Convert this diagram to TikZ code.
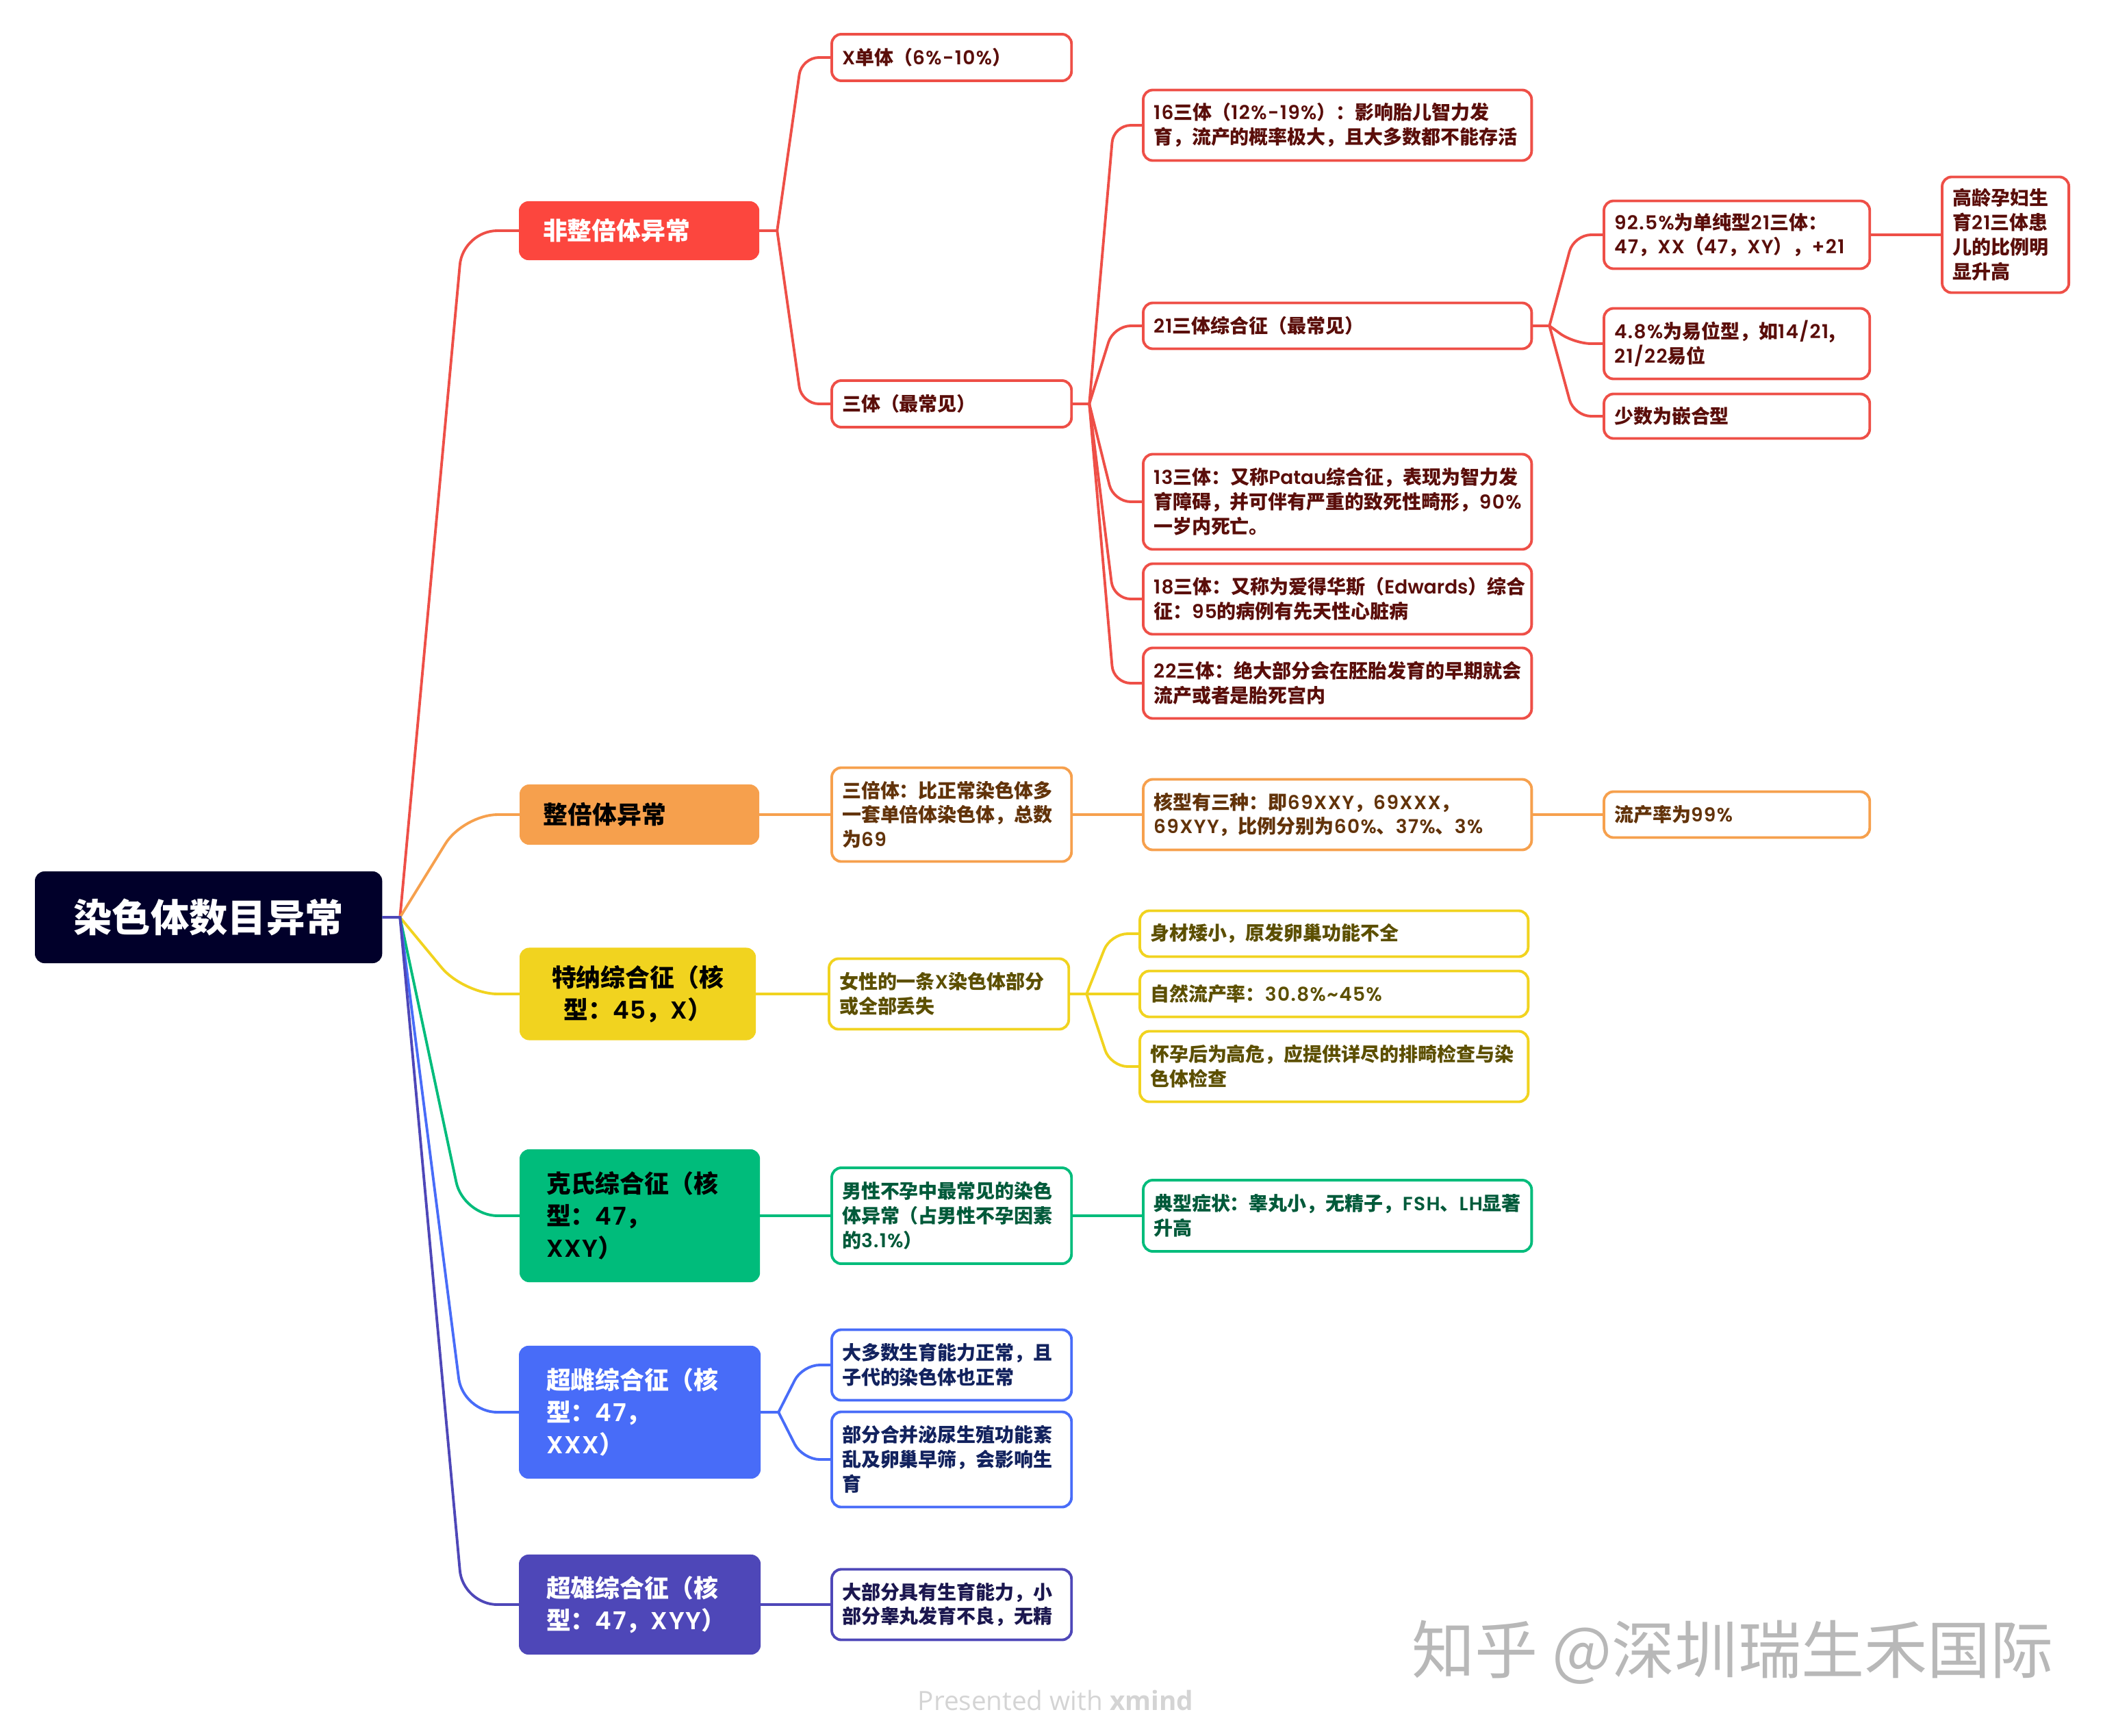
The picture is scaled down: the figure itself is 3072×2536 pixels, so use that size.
\documentclass[tikz,border=0pt]{standalone}
\usepackage{fontspec}
\usetikzlibrary{calc}
\setmainfont{Noto Sans CJK SC}
\newfontfamily\latfont{Poppins}[BoldFont={Poppins SemiBold}, LetterSpace=5]
\newfontfamily\wordfont{Poppins}[BoldFont={Poppins SemiBold}]
\newfontfamily\markfont{Open Sans}
\newcommand{\lat}[1]{{\latfont #1}}
\newcommand{\word}[1]{{\wordfont #1}}

\definecolor{rootcol}{HTML}{01002A}
\definecolor{redcol}{HTML}{EE4F47}
\definecolor{redfill}{HTML}{FC463E}
\definecolor{redtext}{HTML}{5A0E0A}
\definecolor{orangecol}{HTML}{F6A04D}
\definecolor{orangetext}{HTML}{62330A}
\definecolor{yellowcol}{HTML}{F1D31F}
\definecolor{yellowtext}{HTML}{5C4F00}
\definecolor{greencol}{HTML}{00BC7B}
\definecolor{greentext}{HTML}{005A3A}
\definecolor{bluecol}{HTML}{486CF8}
\definecolor{bluetext}{HTML}{12225E}
\definecolor{indigocol}{HTML}{4E47B8}
\definecolor{indigotext}{HTML}{1B174F}

\tikzset{
	rootbox/.style={rectangle, fill=rootcol, text=white, rounded corners=0.14cm, anchor=west, outer sep=0pt,
		minimum width=5.07cm, minimum height=1.34cm, font=\fontsize{16}{20}\selectfont\bfseries},
	mainbox/.style={rectangle, rounded corners=0.14cm, anchor=west, outer sep=0pt, text width=2.73cm, inner xsep=0.30cm,
		align=left, font=\fontsize{10.2}{13.4}\selectfont\bfseries},
	sub/.style={rectangle, draw, line width=1.1pt, fill=white, rounded corners=0.14cm, anchor=west, outer sep=0pt,
		inner xsep=0.15cm, inner ysep=0pt, align=left, font=\fontsize{7.96}{10.2}\selectfont\bfseries},
	colA/.style={sub, text width=3.20cm},
	colB/.style={sub, text width=5.37cm},
	colC/.style={sub, text width=3.58cm},
	colD/.style={sub, text width=1.55cm},
	redbox/.style={draw=redcol, text=redtext},
	orangebox/.style={draw=orangecol, text=orangetext},
	yellowbox/.style={draw=yellowcol, text=yellowtext},
	greenbox/.style={draw=greencol, text=greentext},
	bluebox/.style={draw=bluecol, text=bluetext},
	indigobox/.style={draw=indigocol, text=indigotext},
	branch/.style 2 args={line width=1.1pt, to path={let \p1=(\tikztostart), \p2=(\tikztotarget) in
		-- (\x1+0.26cm,\y1) [rounded corners=#1] -- ({\x1+0.26cm+#2*(\x2-\x1-0.26cm)},\y2) -- (\x2,\y2)}},
	trunk/.style={branch={0.5cm}{0.53}},
	twig/.style={branch={0.25cm}{0.45}}
}

\begin{document}
\begin{tikzpicture}[x=0.01cm, y=-0.01cm]
	\useasboundingbox (0,0) rectangle (3072,2536);

	\node [rootbox] (root) at (51,1340) {染色体数目异常};

	\node [mainbox, fill=redfill, text=white, text width=2.81cm, minimum width=3.51cm, minimum height=0.86cm] (aneu) at (758,337) {非整倍体异常};
	\node [mainbox, fill=orangecol, text=black, text width=2.81cm, minimum width=3.5cm, minimum height=0.88cm] (eupl) at (759,1190) {整倍体异常};
	\node [mainbox, fill=yellowcol, text=black, align=center, minimum width=3.45cm, minimum height=1.35cm] (turner) at (759,1452) {特纳综合征（核\\型：\lat{45}，\lat{X}）};
	\node [mainbox, fill=greencol, text=black, minimum width=3.51cm, minimum height=1.94cm] (klin) at (759,1776) {克氏综合征（核\\型：\lat{47}，\\\lat{XXY}）};
	\node [mainbox, fill=bluecol, text=white, minimum width=3.53cm, minimum height=1.94cm] (xxx) at (758,2063) {超雌综合征（核\\型：\lat{47}，\\\lat{XXX}）};
	\node [mainbox, fill=indigocol, text=white, minimum width=3.53cm, minimum height=1.46cm] (xyy) at (758,2344) {超雄综合征（核\\型：\lat{47}，\lat{XYY}）};

	\node [colA, redbox, minimum height=0.68cm] (mono) at (1215,84) {\lat{X}单体（\lat{6\%-10\%}）};
	\node [colA, redbox, minimum height=0.68cm] (tri) at (1215,590) {三体（最常见）};
	\node [colB, redbox, minimum height=1.03cm] (t16) at (1670,183) {\lat{16}三体（\lat{12\%-19\%}）：影响胎儿智力发\\育，流产的概率极大，且大多数都不能存活};
	\node [colB, redbox, minimum height=0.67cm] (t21) at (1670,476) {\lat{21}三体综合征（最常见）};
	\node [colB, redbox, minimum height=1.39cm] (t13) at (1670,733) {\lat{13}三体：又称\word{Patau}综合征，表现为智力发\\育障碍，并可伴有严重的致死性畸形，\lat{90\%}\\一岁内死亡。};
	\node [colB, redbox, minimum height=1.03cm] (t18) at (1670,875) {\lat{18}三体：又称为爱得华斯（\word{Edwards}）综合\\征：\lat{95}的病例有先天性心脏病};
	\node [colB, redbox, minimum height=1.03cm] (t22) at (1670,998) {\lat{22}三体：绝大部分会在胚胎发育的早期就会\\流产或者是胎死宫内};
	\node [colC, redbox, minimum height=0.99cm] (pure) at (2343,343) {\lat{92.5\%}为单纯型\lat{21}三体：\\\lat{47}，\lat{XX}（\lat{47}，\lat{XY}），\lat{+21}};
	\node [colC, redbox, minimum height=1.03cm] (trans) at (2343,502) {\lat{4.8\%}为易位型，如\lat{14/21},\\\lat{21/22}易位};
	\node [colC, redbox, minimum height=0.65cm] (mosaic) at (2343,608) {少数为嵌合型};
	\node [colD, redbox, minimum height=1.69cm] (elder) at (2837,343) {高龄孕妇生\\育\lat{21}三体患\\儿的比例明\\显升高};

	\node [colA, orangebox, minimum height=1.37cm] (triploid) at (1215,1190) {三倍体：比正常染色体多\\一套单倍体染色体，总数\\为\lat{69}};
	\node [colB, orangebox, minimum height=1.03cm] (karyo) at (1670,1190) {核型有三种：即\lat{69XXY}，\lat{69XXX}，\\\lat{69XYY}，比例分别为\lat{60\%}、\lat{37\%}、\lat{3\%}};
	\node [colC, orangebox, minimum height=0.67cm] (abort) at (2343,1190) {流产率为\lat{99\%}};

	\node [colA, yellowbox, minimum height=1.03cm] (female) at (1211,1452) {女性的一条\lat{X}染色体部分\\或全部丢失};
	\node [colB, yellowbox, minimum height=0.67cm] (short) at (1665,1364) {身材矮小，原发卵巢功能不全};
	\node [colB, yellowbox, minimum height=0.67cm] (natural) at (1665,1452) {自然流产率：\lat{30.8\%\textasciitilde45\%}};
	\node [colB, yellowbox, minimum height=1.03cm] (risk) at (1665,1558) {怀孕后为高危，应提供详尽的排畸检查与染\\色体检查};

	\node [colA, greenbox, minimum height=1.40cm] (male) at (1215,1776) {男性不孕中最常见的染色\\体异常（占男性不孕因素\\的\lat{3.1\%}）};
	\node [colB, greenbox, minimum height=1.04cm] (symptom) at (1670,1776) {典型症状：睾丸小，无精子，\lat{FSH}、\lat{LH}显著\\升高};

	\node [colA, bluebox, minimum height=1.03cm] (fertile) at (1215,1994) {大多数生育能力正常，且\\子代的染色体也正常};
	\node [colA, bluebox, minimum height=1.39cm] (ovary) at (1215,2132) {部分合并泌尿生殖功能紊\\乱及卵巢早筛，会影响生\\育};

	\node [colA, indigobox, minimum height=1.03cm] (xyyfert) at (1215,2344) {大部分具有生育能力，小\\部分睾丸发育不良，无精};

	\node [anchor=west, inner sep=0pt, text=black!28, font=\fontsize{26.2}{30}\selectfont] (zhihu) at (2062,2414) {知乎 @深圳瑞生禾国际};
	\node [anchor=west, inner sep=0pt, text=black!17, font=\fontsize{11}{13}\markfont] (press) at (1340,2484) {Presented with \textbf{xmind}};

	\path [trunk, draw=redcol] (root.east) edge (aneu.west);
	\path [trunk, draw=orangecol] (root.east) edge (eupl.west);
	\path [trunk, draw=yellowcol] (root.east) edge (turner.west);
	\path [trunk, draw=greencol] (root.east) edge (klin.west);
	\path [trunk, draw=bluecol] (root.east) edge (xxx.west);
	\path [trunk, draw=indigocol] (root.east) edge (xyy.west);

	\path [twig, draw=redcol]
	(aneu.east) edge (mono.west)
	(aneu.east) edge (tri.west)
	(tri.east) edge (t16.west)
	(tri.east) edge (t21.west)
	(tri.east) edge (t13.west)
	(tri.east) edge (t18.west)
	(tri.east) edge (t22.west)
	(t21.east) edge (pure.west)
	(t21.east) edge (trans.west)
	(t21.east) edge (mosaic.west)
	(pure.east) edge (elder.west);

	\path [twig, draw=orangecol]
	(eupl.east) edge (triploid.west)
	(triploid.east) edge (karyo.west)
	(karyo.east) edge (abort.west);

	\path [twig, draw=yellowcol]
	(turner.east) edge (female.west)
	(female.east) edge (short.west)
	(female.east) edge (natural.west)
	(female.east) edge (risk.west);

	\path [twig, draw=greencol]
	(klin.east) edge (male.west)
	(male.east) edge (symptom.west);

	\path [twig, draw=bluecol]
	(xxx.east) edge (fertile.west)
	(xxx.east) edge (ovary.west);

	\path [twig, draw=indigocol]
	(xyy.east) edge (xyyfert.west);
\end{tikzpicture}
\end{document}
